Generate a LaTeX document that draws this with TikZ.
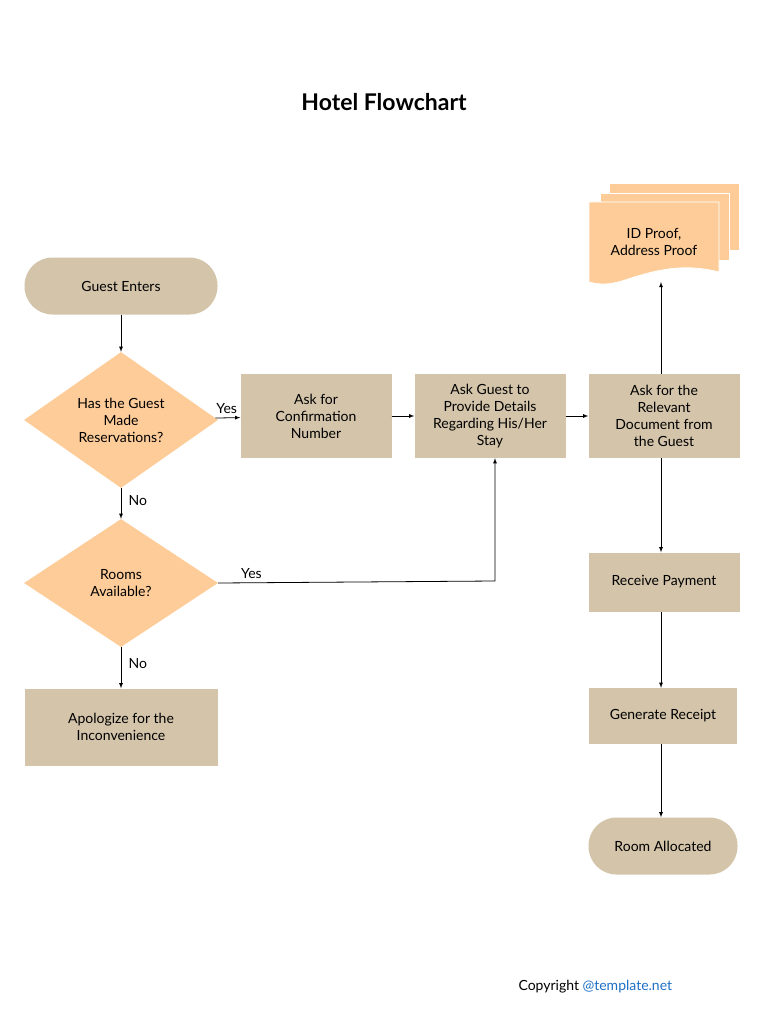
\documentclass[tikz,border=0pt]{standalone}
\usepackage{fontspec}
\setmainfont{Lato}
\usetikzlibrary{shapes.geometric,positioning}
\definecolor{tan}{HTML}{D3C4AA}
\definecolor{peach}{HTML}{FDCC99}
\definecolor{linkblue}{HTML}{1F6FC5}
\tikzset{
  process/.style={draw=none, fill=tan, align=center, font=\fontsize{14}{17}\selectfont, minimum width=151pt, minimum height=84pt, inner sep=2pt},
  terminal/.style={process, rounded corners=28pt, minimum width=193pt, minimum height=57pt},
  decision/.style={diamond, fill=peach, align=center, font=\fontsize{14}{17}\selectfont, minimum width=194pt, minimum height=136pt, inner sep=0pt},
  arrow/.style={-latex, thick},
  lbl/.style={font=\fontsize{14}{17}\selectfont}
}
\begin{document}
\begin{tikzpicture}[x=1pt,y=-1pt]
    \useasboundingbox (0,0) rectangle (768,1024);

    % Title
    \node[font=\bfseries\fontsize{23}{28}\selectfont] (title) at (384,102) {Hotel Flowchart};

    % Left column
    \node[terminal] (enter) at (121,286) {Guest Enters};
    \node[decision] (resv) at (121,420) {Has the Guest\\Made\\Reservations?};
    \node[decision, minimum height=128pt] (rooms) at (121,583) {Rooms\\Available?};
    \node[process, minimum width=193pt, minimum height=77pt] (sorry) at (121,727) {Apologize for the\\Inconvenience};

    % Middle row
    \node[process] (confirm) at (316,416) {Ask for\\Confirmation\\Number};
    \node[process] (details) at (490,416) {Ask Guest to\\Provide Details\\Regarding His/Her\\Stay};
    \node[process] (document) at (664,416) {Ask for the\\Relevant\\Document from\\the Guest};

    % Right column
    \node[process, minimum height=59pt] (payment) at (664,582) {Receive Payment};
    \node[process, minimum width=148pt, minimum height=56pt] (receipt) at (663,716) {Generate Receipt};
    \node[terminal, minimum width=149pt] (room) at (663,846) {Room Allocated};

    % Documents
    \fill[peach] (610,184) rectangle (739,250);
    \draw[white, thick, fill=peach] (600,193) rectangle (729,260);
    \draw[white, thick, fill=peach] (589,202) -- (719,202) -- (719,272) .. controls (680,262) and (650,272) .. (625,280) .. controls (610,285) and (600,285) .. (589,282) -- cycle;
    \node[lbl, align=center] (proof) at (654,242) {ID Proof,\\Address Proof};
    \coordinate (proofb) at (661,282);

    % Connectors
    \draw[arrow] (enter) -- (resv);
    \draw[arrow] (resv) -- node[lbl, above, pos=0.45] {Yes} (confirm);
    \draw[arrow] (resv) -- node[lbl, right, pos=0.4, xshift=4pt] {No} (rooms);
    \draw[arrow] (rooms) -- node[lbl, right, pos=0.4, xshift=4pt] {No} (sorry);
    \draw[arrow] (rooms.east) -- node[lbl, above, pos=0.12] {Yes} (495,581) -- (details.south -| 495,0);
    \draw[arrow] (confirm) -- (details);
    \draw[arrow] (details) -- (document);
    \draw[arrow] (document.north -| proofb) -- (proofb);
    \draw[arrow] (document.south -| proofb) -- (payment.north -| proofb);
    \draw[arrow] (payment.south -| proofb) -- (receipt.north -| proofb);
    \draw[arrow] (receipt.south -| proofb) -- (room.north -| proofb);

    % Footer
    \node[font=\fontsize{14}{17}\selectfont, anchor=west] (copy) at (515,987) {Copyright \textcolor{linkblue}{@template.net}};
\end{tikzpicture}
\end{document}
